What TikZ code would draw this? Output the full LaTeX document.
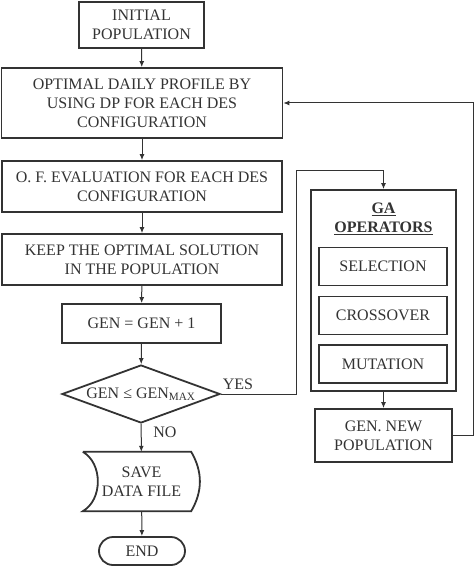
\documentclass[tikz,border=0pt]{standalone}
\usepackage{fontspec}
\setmainfont{Liberation Serif}
\usetikzlibrary{shapes.geometric,arrows.meta}
\definecolor{ink}{HTML}{333333}
\tikzset{
  >={Latex[length=6pt,width=5pt]},
  txt/.style={text=ink,font=\fontsize{16}{19}\selectfont,align=center,inner sep=0pt},
  box/.style={txt,draw=ink,line width=1.8pt},
  opbox/.style={txt,draw=ink,line width=1.4pt,minimum width=128pt,minimum height=38pt},
  link/.style={->,draw=ink,line width=1pt}
}
\begin{document}
\begin{tikzpicture}[x=1pt,y=-1pt]
\useasboundingbox (0,0) rectangle (474,567);
\node[box,minimum width=125pt,minimum height=46pt](init) at (141.5,25){INITIAL\\POPULATION};
\node[box,minimum width=281pt,minimum height=70pt](opt) at (142,103){OPTIMAL DAILY PROFILE BY\\USING DP FOR EACH DES\\CONFIGURATION};
\node[box,minimum width=280pt,minimum height=51pt](ofe) at (142,186.5){O. F. EVALUATION FOR EACH DES\\CONFIGURATION};
\node[box,minimum width=280pt,minimum height=51pt](keep) at (142,259.5){KEEP THE OPTIMAL SOLUTION\\IN THE POPULATION};
\node[box,minimum width=159pt,minimum height=39pt](gen) at (141.5,323.5){GEN = GEN + 1};
\node[box,diamond,aspect=2.7,inner sep=1pt,minimum width=158pt,minimum height=58pt](cond) at (141,394){GEN ≤ GEN\textsubscript{MAX}};
\node[txt,minimum width=117pt,minimum height=59pt](save) at (141.5,481.5){SAVE\\DATA FILE};
\node[box,rounded corners=14pt,minimum width=86pt,minimum height=28pt](stop) at (142,551){END};
\node[box,minimum width=145pt,minimum height=201pt](ga) at (383.5,290.5){};
\node[txt,font=\fontsize{16}{19}\selectfont\bfseries](gatitle) at (383.5,219){\underline{GA}\\\underline{OPERATORS}};
\node[opbox](sel) at (383,266.5){SELECTION};
\node[opbox](cross) at (383,315.5){CROSSOVER};
\node[opbox](mut) at (383,364){MUTATION};
\node[box,minimum width=137pt,minimum height=53pt](newpop) at (383.5,435.5){GEN. NEW\\POPULATION};
\node[txt](yes) at (238,384){YES};
\node[txt](no) at (165,432){NO};
\coordinate (yesturn) at (296,170);
\coordinate (backturn) at (473,103);
% stored data shape
\draw[draw=ink,line width=1.8pt] (save.north west) -- ([xshift=-9pt]save.north east)
  to[bend left=30] ([xshift=-9pt]save.south east) -- (save.south west)
  to[bend right=60] (save.north west);
\draw[link](init)--(opt);
\draw[link](opt)--(ofe);
\draw[link](ofe)--(keep);
\draw[link](keep)--(gen);
\draw[link](gen)--(cond);
\draw[link](cond)--(save);
\draw[link](save)--(stop);
\draw[link](cond.east) -| (yesturn) -| (ga.north);
\draw[link](ga)--(newpop);
\draw[link](newpop.east) -| (backturn) -- (opt.east);
\end{tikzpicture}
\end{document}
